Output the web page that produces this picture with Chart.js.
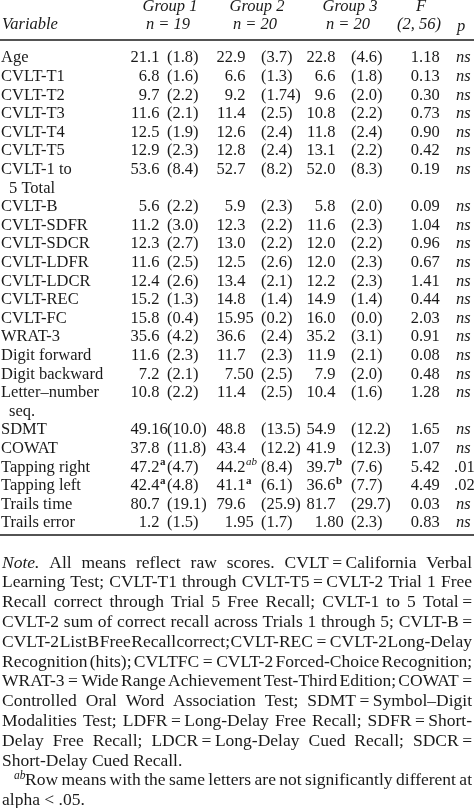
<!DOCTYPE html>
<html>
<head>
<meta charset="utf-8">
<script src="https://cdn.jsdelivr.net/npm/chart.js"></script>
<style>
  body { margin: 0; background: #fff; }
  canvas { display: block; }
</style>
</head>
<body>
<canvas id="table" width="474" height="808"></canvas>
<script>
// 行ラベル（2行に折り返す変数は配列で）
const variables = ['Age', 'CVLT-T1', 'CVLT-T2', 'CVLT-T3', 'CVLT-T4', 'CVLT-T5', ['CVLT-1 to', '5 Total'],
  'CVLT-B', 'CVLT-SDFR', 'CVLT-SDCR', 'CVLT-LDFR', 'CVLT-LDCR', 'CVLT-REC', 'CVLT-FC', 'WRAT-3',
  'Digit forward', 'Digit backward', ['Letter–number', 'seq.'], 'SDMT', 'COWAT', 'Tapping right',
  'Tapping left', 'Trails time', 'Trails error'];

const group1Mean = ['21.1', '6.8', '9.7', '11.6', '12.5', '12.9', '53.6', '5.6', '11.2', '12.3', '11.6', '12.4', '15.2', '15.8', '35.6', '11.6', '7.2', '10.8', '49.16', '37.8', '47.2', '42.4', '80.7', '1.2'];
const group1SD = ['1.8', '1.6', '2.2', '2.1', '1.9', '2.3', '8.4', '2.2', '3.0', '2.7', '2.5', '2.6', '1.3', '0.4', '4.2', '2.3', '2.1', '2.2', '10.0', '11.8', '4.7', '4.8', '19.1', '1.5'];
const group2Mean = ['22.9', '6.6', '9.2', '11.4', '12.6', '12.8', '52.7', '5.9', '12.3', '13.0', '12.5', '13.4', '14.8', '15.95', '36.6', '11.7', '7.50', '11.4', '48.8', '43.4', '44.2', '41.1', '79.6', '1.95'];
const group2SD = ['3.7', '1.3', '1.74', '2.5', '2.4', '2.4', '8.2', '2.3', '2.2', '2.2', '2.6', '2.1', '1.4', '0.2', '2.4', '2.3', '2.5', '2.5', '13.5', '12.2', '8.4', '6.1', '25.9', '1.7'];
const group3Mean = ['22.8', '6.6', '9.6', '10.8', '11.8', '13.1', '52.0', '5.8', '11.6', '12.0', '12.0', '12.2', '14.9', '16.0', '35.2', '11.9', '7.9', '10.4', '54.9', '41.9', '39.7', '36.6', '81.7', '1.80'];
const group3SD = ['4.6', '1.8', '2.0', '2.2', '2.4', '2.2', '8.3', '2.0', '2.3', '2.2', '2.3', '2.3', '1.4', '0.0', '3.1', '2.1', '2.0', '1.6', '12.2', '12.3', '7.6', '7.7', '29.7', '2.3'];
const fValues = ['1.18', '0.13', '0.30', '0.73', '0.90', '0.42', '0.19', '0.09', '1.04', '0.96', '0.67', '1.41', '0.44', '2.03', '0.91', '0.08', '0.48', '1.28', '1.65', '1.07', '5.42', '4.49', '0.03', '0.83'];
const pValues = ['ns', 'ns', 'ns', 'ns', 'ns', 'ns', 'ns', 'ns', 'ns', 'ns', 'ns', 'ns', 'ns', 'ns', 'ns', 'ns', 'ns', 'ns', 'ns', 'ns', '.01', '.02', 'ns', 'ns'];
// 上付き文字（平均値の右肩）
const superscripts = { '20,0': 'a', '20,1': 'ab', '20,2': 'b', '21,0': 'a', '21,1': 'a', '21,2': 'b' };

const headerGroups = ['Group 1', 'Group 2', 'Group 3'];
const headerN = ['n = 19', 'n = 20', 'n = 20'];

const noteLines = [
  'Note. All means reflect raw scores. CVLT\u2009=\u2009California Verbal',
  'Learning Test; CVLT-T1 through CVLT-T5\u2009=\u2009CVLT-2 Trial 1 Free',
  'Recall correct through Trial 5 Free Recall; CVLT-1 to 5 Total\u2009=',
  'CVLT-2 sum of correct recall across Trials 1 through 5; CVLT-B\u2009=',
  'CVLT-2 List B Free Recall correct; CVLT-REC\u2009=\u2009CVLT-2 Long-Delay',
  'Recognition (hits); CVLTFC\u2009=\u2009CVLT-2 Forced-Choice Recognition;',
  'WRAT-3\u2009=\u2009Wide Range Achievement Test-Third Edition; COWAT\u2009=',
  'Controlled Oral Word Association Test; SDMT\u2009=\u2009Symbol–Digit',
  'Modalities Test; LDFR\u2009=\u2009Long-Delay Free Recall; SDFR\u2009=\u2009Short-',
  'Delay Free Recall; LDCR\u2009=\u2009Long-Delay Cued Recall; SDCR\u2009=',
  'Short-Delay Cued Recall.',
  'Row means with the same letters are not significantly different at',
  'alpha < .05.'
];

const SERIF = '"Liberation Serif", "DejaVu Serif", serif';
const font = (size, style = '') => `${style} ${size}px ${SERIF}`;

// 表を描くプラグイン（位置はすべてスケール経由）
const tablePlugin = {
  id: 'tableText',
  afterDraw(chart) {
    const ctx = chart.ctx;
    const X = v => chart.scales.x.getPixelForValue(v);
    const Y = v => chart.scales.y.getPixelForValue(v);
    ctx.save();
    ctx.fillStyle = '#1a1a1a';
    ctx.strokeStyle = '#1a1a1a';
    ctx.textBaseline = 'middle';

    // ヘッダー
    ctx.font = font(16.5, 'italic');
    ctx.textAlign = 'left';
    ctx.fillText('Variable', X(2), Y(25));
    const groupCenters = [168, 255, 348];
    headerGroups.forEach((g, i) => {
      ctx.textAlign = 'center';
      ctx.fillText(g, X(groupCenters[i] + 2), Y(7));
      ctx.fillText(headerN[i], X(groupCenters[i]), Y(25));
    });
    ctx.fillText('F', X(421), Y(7));
    ctx.fillText('(2, 56)', X(419), Y(25));
    ctx.fillText('p', X(461), Y(27));

    ctx.lineWidth = 1.5;
    ctx.beginPath(); ctx.moveTo(X(0), Y(40)); ctx.lineTo(X(474), Y(40)); ctx.stroke();

    // 小数点揃えで数値を描く
    const drawDec = (txt, decX, y, sup) => {
      ctx.font = font(16.5);
      const parts = txt.split('.');
      ctx.textAlign = 'right';
      ctx.fillText(parts[0], X(decX), y);
      ctx.textAlign = 'left';
      const rest = '.' + (parts[1] || '');
      ctx.fillText(rest, X(decX), y);
      if (sup) {
        const w = ctx.measureText(rest).width;
        ctx.font = sup === 'ab' ? font(11, 'italic') : font(11, 'bold');
        ctx.fillText(sup, X(decX) + w + 0.5, y - 5);
      }
    };

    const rowStep = 18.6;
    let line = 0;
    variables.forEach((v, i) => {
      const y = Y(58 + line * rowStep);
      ctx.font = font(16.5);
      ctx.textAlign = 'left';
      const labels = Array.isArray(v) ? v : [v];
      labels.forEach((l, k) => ctx.fillText(l, X(k ? 9 : 1), Y(58 + (line + k) * rowStep)));
      const means = [group1Mean[i], group2Mean[i], group3Mean[i]];
      const sds = [group1SD[i], group2SD[i], group3SD[i]];
      const decs = [147, 233, 323];
      const sdX = [167, 261, 351];
      means.forEach((m, g) => {
        drawDec(m, decs[g], y, superscripts[i + ',' + g]);
        ctx.font = font(16.5);
        ctx.textAlign = 'left';
        ctx.fillText('(' + sds[g] + ')', X(sdX[g]), y);
      });
      drawDec(fValues[i], 419, y);
      ctx.textAlign = 'left';
      if (pValues[i] === 'ns') {
        ctx.font = font(16.5, 'italic');
        ctx.fillText('ns', X(456), y);
      } else {
        ctx.font = font(16.5);
        ctx.fillText(pValues[i], X(454), y);
      }
      line += labels.length;
    });

    ctx.beginPath(); ctx.moveTo(X(0), Y(535)); ctx.lineTo(X(474), Y(535)); ctx.stroke();

    // 注記（両端揃え）
    const left = 2, right = 472, noteStep = 19.8, noteSize = 17.5;
    noteLines.forEach((txt, i) => {
      const y = Y(563 + i * noteStep);
      let x0 = left;
      ctx.textAlign = 'left';
      if (i === 11) {
        ctx.font = font(11.5, 'italic');
        ctx.fillText('ab', X(14), y - 5);
        x0 = 25;
      }
      const words = txt.split(' ');
      const styles = words.map((w, k) => (i === 0 && k === 0) ? 'italic' : '');
      const widths = words.map((w, k) => { ctx.font = font(noteSize, styles[k]); return ctx.measureText(w).width; });
      const total = widths.reduce((a, b) => a + b, 0);
      const justify = !(i === 10 || i === 12);
      ctx.font = font(noteSize);
      const gap = justify ? (X(right) - X(x0) - total) / (words.length - 1) : ctx.measureText(' ').width;
      let x = X(x0);
      words.forEach((w, k) => {
        ctx.font = font(noteSize, styles[k]);
        ctx.fillText(w, x, y);
        x += widths[k] + gap;
      });
    });
    ctx.restore();
  }
};

new Chart(document.getElementById('table').getContext('2d'), {
  type: 'scatter',
  data: { datasets: [{ data: [], pointRadius: 0 }] },
  options: {
    responsive: false,
    animation: false,
    layout: { padding: 0 },
    plugins: { legend: { display: false }, tooltip: { enabled: false } },
    scales: {
      x: { type: 'linear', min: 0, max: 474, display: false },
      y: { type: 'linear', min: 0, max: 808, reverse: true, display: false }
    }
  },
  plugins: [tablePlugin]
});
</script>
</body>
</html>
